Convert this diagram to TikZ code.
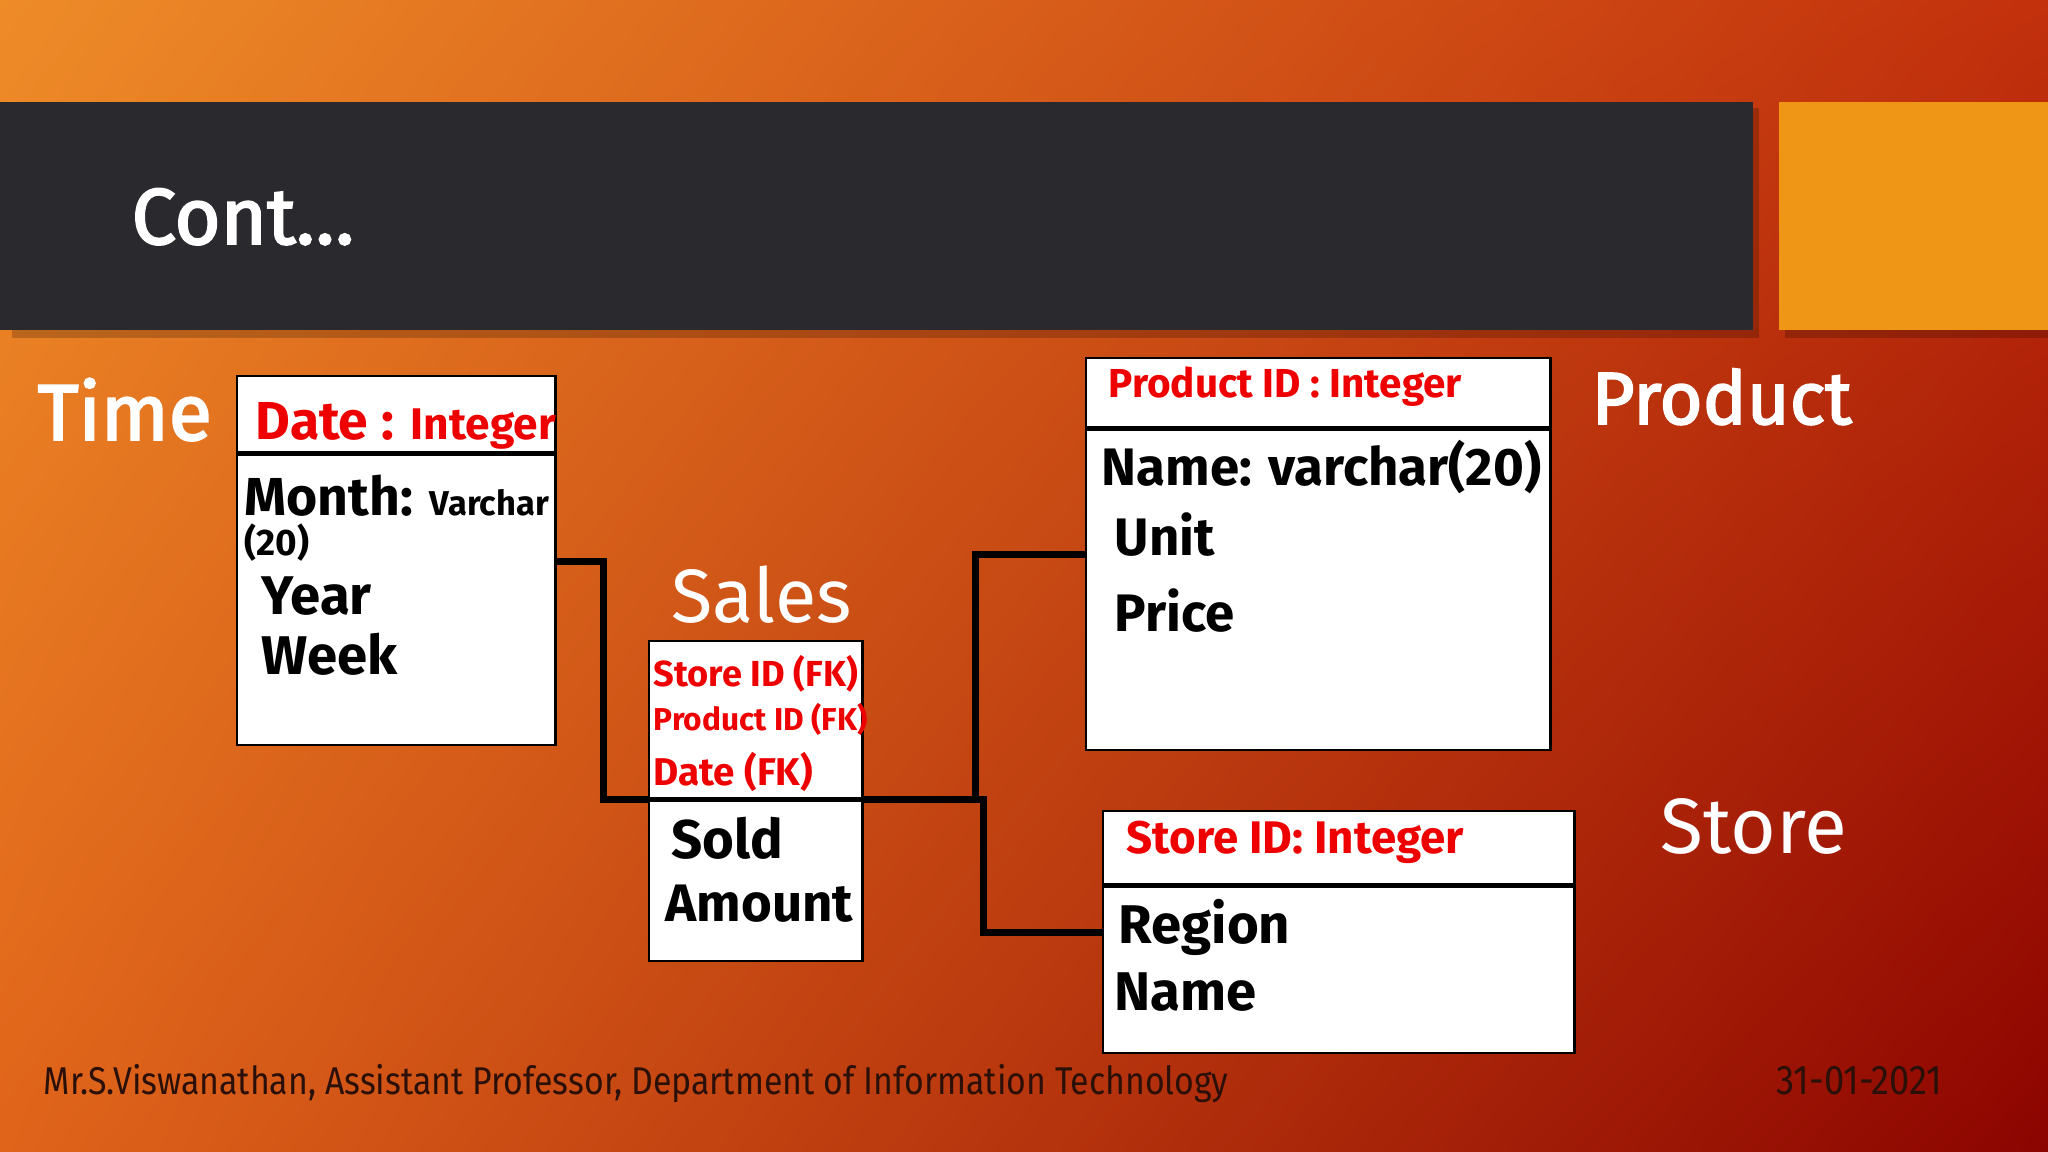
\documentclass[tikz,border=0pt]{standalone}
\usepackage{fontspec}
\setmainfont{Fira Sans}
\newfontfamily\footfont[FakeStretch=0.875]{Fira Sans}
\newfontfamily\medfont[FakeBold=2.5]{Fira Sans}
\usetikzlibrary{positioning,shadings}
\definecolor{barcol}{HTML}{2A2A2E}
\definecolor{sqcol}{HTML}{EF9617}
\definecolor{keyred}{HTML}{EE0000}
\definecolor{bgtl}{RGB}{238,140,40}
\definecolor{bgtr}{RGB}{194,48,12}
\definecolor{bgbl}{RGB}{224,100,26}
\definecolor{bgbr}{RGB}{140,4,0}
\definecolor{foottxt}{HTML}{2A1008}
\newcommand{\fsz}[1]{\fontsize{#1}{#1}\selectfont}
\begin{document}
\begin{tikzpicture}[x=0.01cm,y=-0.01cm,
  box/.style={draw=black, fill=white, line width=0.7pt, inner sep=0pt},
  fld/.style={anchor=base west, inner sep=0pt, font=\bfseries},
  key/.style={anchor=base west, inner sep=0pt, text=keyred, font=\bfseries},
  lbl/.style={anchor=base west, inner sep=0pt, text=white},
  foot/.style={anchor=base west, inner sep=0pt, text=foottxt, font=\footfont\fsz{11}},
  link/.style={draw=black, line width=2.1pt}]
\shade[upper left=bgtl, upper right=bgtr, lower left=bgbl, lower right=bgbr] (0,0) rectangle (2048,1152);
\useasboundingbox (0,0) rectangle (2048,1152);
\fill[black, opacity=0.2] (12,108) rectangle (1759,338);
\fill[black, opacity=0.2] (1785,108) rectangle (2048,338);
\fill[barcol] (0,102) rectangle (1753,330);
\fill[sqcol] (1779,102) rectangle (2048,330);
\node[lbl, font=\medfont\fsz{22.5}] (title) at (131,244) {Cont…};

\node[box, anchor=north west, minimum width=3.18cm, minimum height=0.76cm] (timehead) at (236,375) {};
\node[box, below=0pt of timehead, minimum width=3.18cm, minimum height=2.90cm] (timebody) {};
\node[box, anchor=north west, minimum width=2.13cm, minimum height=1.57cm] (salehead) at (648,640) {};
\node[box, below=0pt of salehead, minimum width=2.13cm, minimum height=1.60cm] (salebody) {};
\node[box, anchor=north west, minimum width=4.64cm, minimum height=0.69cm] (prodhead) at (1085,357) {};
\node[box, below=0pt of prodhead, minimum width=4.64cm, minimum height=3.20cm] (prodbody) {};
\node[box, anchor=north west, minimum width=4.71cm, minimum height=0.73cm] (storehead) at (1102,810) {};
\node[box, below=0pt of storehead, minimum width=4.71cm, minimum height=1.66cm] (storebody) {};

\draw[link] ([yshift=0.38cm]timebody.east) -- ++(47,0) |- (salehead.south west);
\draw[link] (salehead.south east) -- ++(112,0) |- ([yshift=0.35cm]prodbody.west);
\draw[link] (salehead.south east) -- ++(120,0) |- ([yshift=0.37cm]storebody.west);

\node[lbl, font=\medfont\fsz{22.5}] (timelbl) at (37,440) {Time};
\node[key] (timekey) at (255,440) {\fsz{15.2}Date : \fsz{12.6}Integer};
\node[fld] (month) at (244,516) {\fsz{15.2}Month: \fsz{9.8}Varchar};
\node[fld, font=\bfseries\fsz{10.5}] (monthlen) at (244,555) {(20)};
\node[fld, font=\bfseries\fsz{15.5}] (year) at (261,614) {Year};
\node[fld, font=\bfseries\fsz{15.5}] (week) at (261,675) {Week};

\node[lbl, font=\fsz{21.5}] (salelbl) at (671,623) {Sales};
\node[key, font=\bfseries\fsz{10.3}] (sstore) at (653,686) {Store ID (FK)};
\node[key, font=\bfseries\fsz{9}] (sprod) at (653,730) {Product ID (FK)};
\node[key, font=\bfseries\fsz{11}] (sdate) at (653,785) {Date (FK)};
\node[fld, font=\bfseries\fsz{15.5}] (sold) at (671,858) {Sold};
\node[fld, font=\bfseries\fsz{15}] (amount) at (665,921) {Amount};

\node[lbl, font=\medfont\fsz{21}] (prodlbl) at (1591,424) {Product};
\node[key, font=\bfseries\fsz{11.5}] (prodkey) at (1108,398) {Product ID : Integer};
\node[fld, font=\bfseries\fsz{15}] (pname) at (1101,486) {Name: varchar(20)};
\node[fld, font=\bfseries\fsz{15}] (unit) at (1114,556) {Unit};
\node[fld, font=\bfseries\fsz{15}] (price) at (1114,631) {Price};

\node[lbl, font=\fsz{22.3}] (storelbl) at (1660,853) {Store};
\node[key, font=\bfseries\fsz{13}] (storekey) at (1126,853) {Store ID: Integer};
\node[fld, font=\bfseries\fsz{15.5}] (region) at (1118,943) {Region};
\node[fld, font=\bfseries\fsz{15.5}] (sname) at (1114,1010) {Name};

\node[foot] (author) at (43,1094) {Mr.S.Viswanathan, Assistant Professor, Department of Information Technology};
\node[foot, font=\footfont\fsz{11.8}] (date) at (1776,1094) {31-01-2021};
\end{tikzpicture}
\end{document}
